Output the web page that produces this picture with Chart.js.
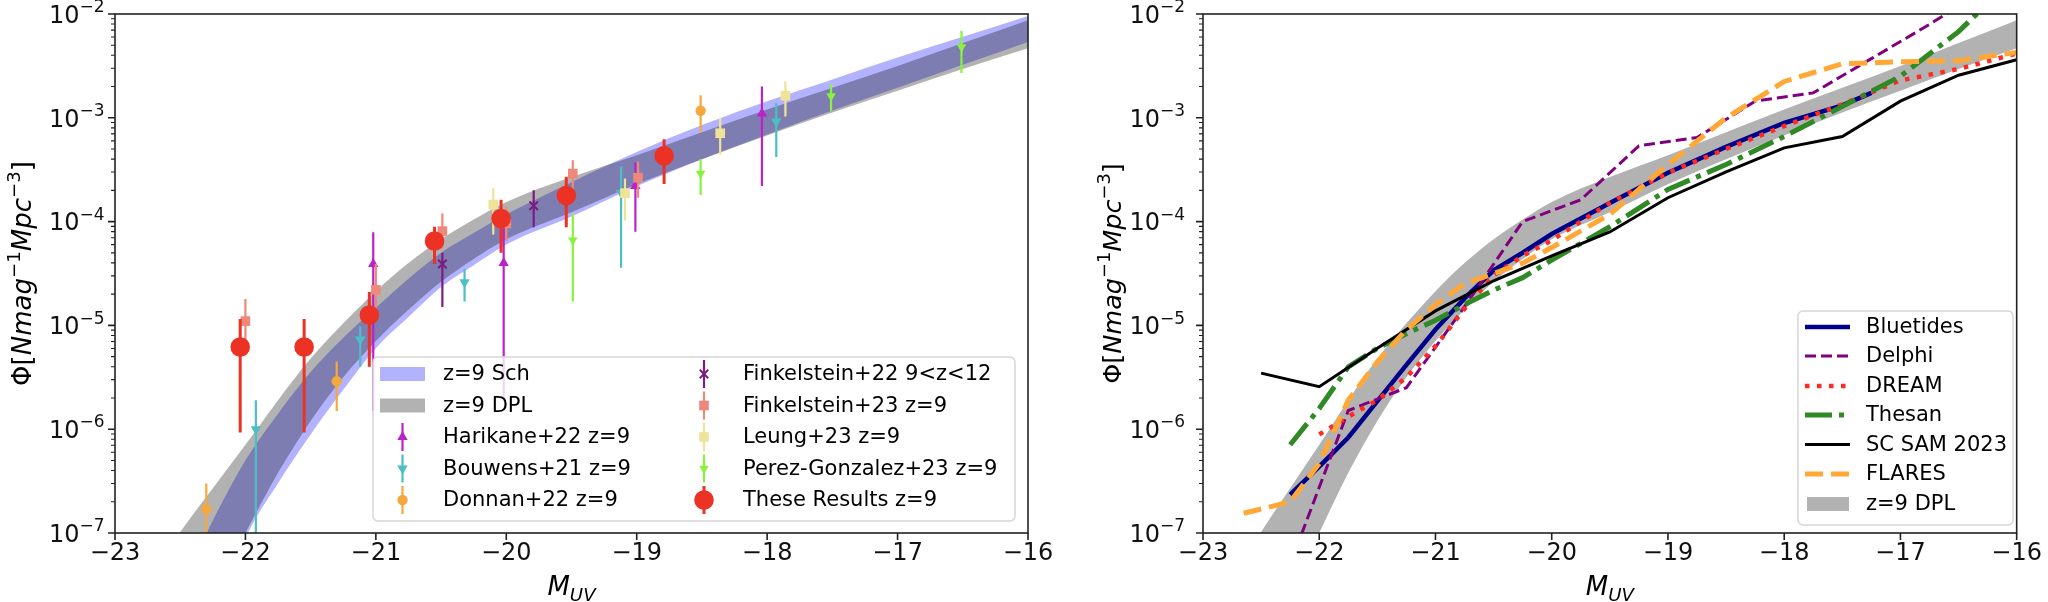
<!DOCTYPE html>
<html>
<head>
<meta charset="utf-8">
<script src="https://cdn.jsdelivr.net/npm/chart.js@4.4.1/dist/chart.umd.min.js"></script>
<style>
  html, body { margin: 0; padding: 0; background: #fff; }
  #wrap { position: relative; width: 2048px; height: 602px; overflow: hidden; }
  canvas { position: absolute; top: 0; }
  #left { left: 0; }
  #right { left: 1080px; }
</style>
</head>
<body>
<div id="wrap">
  <canvas id="left" width="1060" height="602"></canvas>
  <canvas id="right" width="968" height="602"></canvas>
</div>
<script>
// ---- axes ----
const xTicks = [-23, -22, -21, -20, -19, -18, -17, -16];
const yTicks = [1e-7, 1e-6, 1e-5, 1e-4, 1e-3, 1e-2];
const yTickExp = ["\u22127", "\u22126", "\u22125", "\u22124", "\u22123", "\u22122"];

// ---- shaded z=9 fits: log10(Phi) read along the band edges ----
const bandM = [-22.75, -22.5, -22.25, -22, -21.75, -21.5, -21.25, -21, -20.75, -20.5, -20.25, -20, -19.5, -19, -18.5, -18, -17.5, -17, -16.5, -16];
const schHiLog = [-8.3, -7.55, -6.88, -6.30, -5.85, -5.45, -5.12, -4.83, -4.55, -4.30, -4.11, -3.93, -3.62, -3.33, -3.07, -2.84, -2.63, -2.42, -2.22, -2.02];
const schLoLog = [-9.0, -8.6, -7.9, -7.05, -6.52, -6.05, -5.62, -5.22, -4.92, -4.63, -4.42, -4.22, -3.95, -3.66, -3.40, -3.16, -2.93, -2.71, -2.49, -2.27];
const dplHiLog = [-7.45, -6.99, -6.57, -6.15, -5.72, -5.32, -4.98, -4.67, -4.40, -4.17, -3.98, -3.81, -3.57, -3.36, -3.14, -2.92, -2.71, -2.50, -2.28, -2.06];
const dplLoLog = [-8.8, -8.2, -7.6, -7.0, -6.42, -5.92, -5.50, -5.15, -4.85, -4.58, -4.36, -4.17, -3.91, -3.64, -3.40, -3.17, -2.95, -2.74, -2.53, -2.33];

// ---- observations (left panel) ----
const harikaneM = [-21.02, -20.02, -19.01, -18.04];
const harikanePhi = [3.9e-5, 4.0e-5, 2.2e-4, 1.1e-3];
const harikaneHi = [7.9e-5, 9.0e-5, 3.7e-4, 2.0e-3];
const harikaneLo = [1.5e-6, 2.0e-6, 8.0e-5, 2.2e-4];

const bouwensM = [-21.92, -21.12, -20.32, -19.12, -17.93];
const bouwensPhi = [1.0e-6, 7.3e-6, 2.6e-5, 1.9e-4, 9.2e-4];
const bouwensHi = [1.9e-6, 9.8e-6, 3.5e-5, 3.4e-4, 1.4e-3];
const bouwensLo = [1e-8, 4.0e-6, 1.7e-5, 3.6e-5, 4.2e-4];

const donnanM = [-22.30, -21.30, -18.51];
const donnanPhi = [1.7e-7, 2.9e-6, 1.17e-3];
const donnanHi = [3.0e-7, 4.5e-6, 1.65e-3];
const donnanLo = [1e-8, 1.5e-6, 7.2e-4];

const fink22M = [-20.49, -19.79];
const fink22Phi = [3.9e-5, 1.42e-4];
const fink22Hi = [5.0e-5, 2.0e-4];
const fink22Lo = [1.5e-5, 8.8e-5];

const fink23M = [-22.0, -21.0, -20.49, -20.0, -19.49, -18.99];
const fink23Phi = [1.1e-5, 2.2e-5, 8.1e-5, 9.6e-5, 2.9e-4, 2.65e-4];
const fink23Hi = [1.8e-5, 3.9e-5, 1.2e-4, 1.4e-4, 3.9e-4, 3.8e-4];
const fink23Lo = [5.2e-6, 1.4e-5, 5.5e-5, 6.5e-5, 2.0e-4, 1.7e-4];

const leungM = [-20.10, -19.09, -18.36, -17.86];
const leungPhi = [1.46e-4, 1.88e-4, 7.1e-4, 1.63e-3];
const leungHi = [2.1e-4, 2.6e-4, 1.0e-3, 2.25e-3];
const leungLo = [7.5e-5, 1.02e-4, 4.4e-4, 1.03e-3];

const perezM = [-19.49, -18.51, -17.51, -16.51];
const perezPhi = [6.6e-5, 2.9e-4, 1.62e-3, 4.8e-3];
const perezHi = [1.2e-4, 4.0e-4, 2.1e-3, 6.9e-3];
const perezLo = [1.7e-5, 1.8e-4, 1.17e-3, 2.7e-3];

const oursM = [-22.04, -21.55, -21.05, -20.55, -20.04, -19.54, -18.79];
const oursPhi = [6.2e-6, 6.2e-6, 1.26e-5, 6.5e-5, 1.07e-4, 1.78e-4, 4.3e-4];
const oursHi = [1.15e-5, 1.15e-5, 2.1e-5, 8.9e-5, 1.62e-4, 2.7e-4, 6.2e-4];
const oursLo = [9.3e-7, 9.3e-7, 4.0e-6, 3.9e-5, 5.0e-5, 8.8e-5, 2.3e-4];

// ---- simulations (right panel): log10(Phi) ----
const bluetidesM = [-22.25, -22, -21.75, -21.5, -21.25, -21, -20.75, -20.5, -20.25, -20, -19.5, -19, -18.5, -18, -17.5, -17.25];
const bluetidesLog = [-6.63, -6.36, -6.08, -5.73, -5.38, -5.04, -4.74, -4.47, -4.30, -4.12, -3.82, -3.53, -3.28, -3.05, -2.88, -2.76];
const delphiM = [-22.25, -21.75, -21.25, -20.75, -20.25, -19.75, -19.25, -18.75, -18.25, -17.75, -17.25, -16.75, -16.25];
const delphiLog = [-7.3, -5.82, -5.6, -4.82, -4.0, -3.79, -3.27, -3.19, -2.84, -2.76, -2.43, -2.10, -1.75];
const dreamM = [-22, -21.75, -21.5, -21.25, -21, -20.75, -20.5, -20.25, -20, -19.5, -19, -18.5, -18, -17.5, -17, -16.5, -16];
const dreamLog = [-6.05, -5.88, -5.72, -5.50, -5.20, -4.84, -4.52, -4.33, -4.18, -3.82, -3.53, -3.30, -3.08, -2.87, -2.64, -2.53, -2.38];
const thesanM = [-22.25, -22, -21.75, -21.5, -21.25, -21, -20.75, -20.5, -20.25, -20, -19.5, -19, -18.5, -18, -17.5, -17, -16.5, -16.25];
const thesanLog = [-6.15, -5.80, -5.40, -5.22, -5.08, -4.95, -4.80, -4.66, -4.54, -4.37, -4.05, -3.69, -3.45, -3.18, -2.89, -2.60, -2.17, -1.9];
const scsamM = [-22.5, -22, -21.5, -21, -20.5, -20, -19.5, -19, -18.5, -18, -17.5, -17, -16.5, -16];
const scsamLog = [-5.46, -5.59, -5.22, -4.86, -4.57, -4.33, -4.10, -3.77, -3.52, -3.29, -3.18, -2.84, -2.59, -2.44];
const flaresM = [-22.65, -22.25, -22, -21.75, -21.5, -21.25, -21, -20.75, -20.5, -20.25, -20, -19.5, -19, -18.5, -18, -17.5, -17, -16.5, -16];
const flaresLog = [-6.81, -6.70, -6.33, -5.72, -5.35, -5.04, -4.80, -4.60, -4.50, -4.40, -4.25, -3.93, -3.45, -3.0, -2.65, -2.48, -2.46, -2.45, -2.37];

// ---- helpers ----
const FONT = '"DejaVu Sans", sans-serif';
Chart.defaults.font.family = FONT;
const pts = (xs, ys) => xs.map((x, i) => ({ x, y: ys[i] }));
const unlog = arr => arr.map(v => Math.pow(10, v));
const minus = v => (v < 0 ? "\u2212" : "") + Math.abs(v);

const SCH_FILL = "rgba(0,0,255,0.3)";
const DPL_FILL = "rgba(0,0,0,0.3)";

const obs = [
  { label: "Harikane+22 z=9", m: harikaneM, phi: harikanePhi, hi: harikaneHi, lo: harikaneLo, color: "#bd22c8", style: "triangle", rot: 0, r: 6, ew: 2.2 },
  { label: "Bouwens+21 z=9", m: bouwensM, phi: bouwensPhi, hi: bouwensHi, lo: bouwensLo, color: "#4cbfc4", style: "triangle", rot: 180, r: 6, ew: 2.2 },
  { label: "Donnan+22 z=9", m: donnanM, phi: donnanPhi, hi: donnanHi, lo: donnanLo, color: "#f5a83c", style: "circle", rot: 0, r: 5.2, ew: 2.2 },
  { label: "Finkelstein+22 9<z<12", m: fink22M, phi: fink22Phi, hi: fink22Hi, lo: fink22Lo, color: "#7c1c80", style: "crossRot", rot: 0, r: 6, ew: 2.2 },
  { label: "Finkelstein+23 z=9", m: fink23M, phi: fink23Phi, hi: fink23Hi, lo: fink23Lo, color: "#ee8878", style: "rect", rot: 0, r: 6.8, ew: 2.2 },
  { label: "Leung+23 z=9", m: leungM, phi: leungPhi, hi: leungHi, lo: leungLo, color: "#efe39a", style: "rect", rot: 0, r: 6.8, ew: 2.2 },
  { label: "Perez-Gonzalez+23 z=9", m: perezM, phi: perezPhi, hi: perezHi, lo: perezLo, color: "#88f23e", style: "triangle", rot: 180, r: 5.5, ew: 2.2 },
  { label: "These Results z=9", m: oursM, phi: oursPhi, hi: oursHi, lo: oursLo, color: "#ec3125", style: "circle", rot: 0, r: 9.8, ew: 3 }
];

const sims = [
  { label: "Bluetides", m: bluetidesM, v: bluetidesLog, color: "#00008b", w: 4.5, dash: [] },
  { label: "Delphi", m: delphiM, v: delphiLog, color: "#800080", w: 3, dash: [11, 5] },
  { label: "DREAM", m: dreamM, v: dreamLog, color: "#ff2a22", w: 4.5, dash: [4.5, 7.5] },
  { label: "Thesan", m: thesanM, v: thesanLog, color: "#2f8a25", w: 5, dash: [27, 7, 5, 7] },
  { label: "SC SAM 2023", m: scsamM, v: scsamLog, color: "#000000", w: 3, dash: [] },
  { label: "FLARES", m: flaresM, v: flaresLog, color: "#ffa836", w: 5, dash: [18, 8] }
];

function drawMarker(ctx, s, x, y) {
  ctx.save();
  ctx.fillStyle = s.color;
  ctx.strokeStyle = s.color;
  ctx.lineWidth = 2;
  const r = s.r;
  ctx.beginPath();
  if (s.style === "circle") {
    ctx.arc(x, y, r, 0, Math.PI * 2);
    ctx.fill();
  } else if (s.style === "triangle") {
    const rot = s.rot * Math.PI / 180;
    for (let k = 0; k < 3; k++) {
      const a = rot + k * 2 * Math.PI / 3;
      const px = x + Math.sin(a) * r, py = y - Math.cos(a) * r;
      if (k) ctx.lineTo(px, py); else ctx.moveTo(px, py);
    }
    ctx.closePath();
    ctx.fill();
  } else if (s.style === "rect") {
    const h = r * Math.SQRT1_2;
    ctx.rect(x - h, y - h, 2 * h, 2 * h);
    ctx.fill();
  } else if (s.style === "crossRot") {
    const h = r * Math.SQRT1_2;
    ctx.moveTo(x - h, y - h); ctx.lineTo(x + h, y + h);
    ctx.moveTo(x + h, y - h); ctx.lineTo(x - h, y + h);
    ctx.stroke();
  }
  ctx.restore();
}

function drawPhiLabel(ctx, bx, cy, size) {
  const parts = [["\u03A6[", "", 1, 0], ["Nmag", "italic ", 1, 0], ["\u22121", "", 0.7, 0.42],
                 ["Mpc", "italic ", 1, 0], ["\u22123", "", 0.7, 0.42], ["]", "", 1, 0]];
  ctx.save();
  ctx.translate(bx, cy);
  ctx.rotate(-Math.PI / 2);
  ctx.fillStyle = "#000";
  ctx.textBaseline = "alphabetic";
  ctx.textAlign = "left";
  let w = 0;
  parts.forEach(p => { ctx.font = p[1] + (size * p[2]) + "px " + FONT; w += ctx.measureText(p[0]).width; });
  let x = -w / 2;
  parts.forEach(p => {
    ctx.font = p[1] + (size * p[2]) + "px " + FONT;
    ctx.fillText(p[0], x, -p[3] * size);
    x += ctx.measureText(p[0]).width;
  });
  ctx.restore();
}

function drawMuv(ctx, cx, by, size) {
  ctx.save();
  ctx.fillStyle = "#000";
  ctx.textBaseline = "alphabetic";
  ctx.textAlign = "left";
  ctx.font = "italic " + size + "px " + FONT;
  const wM = ctx.measureText("M").width;
  ctx.font = "italic " + (size * 0.7) + "px " + FONT;
  const wS = ctx.measureText("UV").width;
  let x = cx - (wM + wS) / 2;
  ctx.font = "italic " + size + "px " + FONT;
  ctx.fillText("M", x, by);
  ctx.font = "italic " + (size * 0.7) + "px " + FONT;
  ctx.fillText("UV", x + wM, by + size * 0.22);
  ctx.restore();
}

// "10" with a raised exponent, right-aligned at rx and centred on the tick
function drawPow10(ctx, rx, py, exp) {
  ctx.save();
  ctx.fillStyle = "#111";
  ctx.textBaseline = "alphabetic";
  ctx.textAlign = "left";
  ctx.font = "17px " + FONT;
  const we = ctx.measureText(exp).width;
  ctx.font = "24px " + FONT;
  const wb = ctx.measureText("10").width;
  const base = py + 8.7;
  ctx.fillText("10", rx - we - wb, base);
  ctx.font = "17px " + FONT;
  ctx.fillText(exp, rx - we, base - 10.5);
  ctx.restore();
}

function legendFrame(ctx, l, t, r, b) {
  ctx.save();
  ctx.beginPath();
  ctx.roundRect(l, t, r - l, b - t, 5);
  ctx.fillStyle = "rgba(255,255,255,0.8)";
  ctx.fill();
  ctx.strokeStyle = "#d6d6d6";
  ctx.lineWidth = 1.5;
  ctx.stroke();
  ctx.restore();
}

function legendText(ctx, text, x, y) {
  ctx.save();
  ctx.fillStyle = "#000";
  ctx.font = "21px " + FONT;
  ctx.textBaseline = "middle";
  ctx.textAlign = "left";
  ctx.fillText(text, x, y);
  ctx.restore();
}

function frameAndTicks(chart, labelGap) {
  const ctx = chart.ctx, a = chart.chartArea, xs = chart.scales.x, ys = chart.scales.y;
  ctx.save();
  ctx.strokeStyle = "#222";
  ctx.lineWidth = 1.6;
  ctx.beginPath();
  xTicks.forEach(v => { const p = xs.getPixelForValue(v); ctx.moveTo(p, a.bottom); ctx.lineTo(p, a.bottom + 7); });
  yTicks.forEach(v => { const p = ys.getPixelForValue(v); ctx.moveTo(a.left - 7, p); ctx.lineTo(a.left, p); });
  ctx.stroke();
  ctx.lineWidth = 1.1;
  ctx.beginPath();
  for (let d = -7; d < -2; d++) {
    for (let k = 2; k < 10; k++) {
      const p = ys.getPixelForValue(k * Math.pow(10, d));
      ctx.moveTo(a.left - 4, p); ctx.lineTo(a.left, p);
    }
  }
  ctx.stroke();
  ctx.lineWidth = 1.6;
  ctx.strokeRect(a.left, a.top, a.right - a.left, a.bottom - a.top);
  ctx.restore();
  yTicks.forEach((v, i) => drawPow10(ctx, a.left - labelGap, ys.getPixelForValue(v), yTickExp[i]));
}

function scalesFor(yWidth) {
  return {
    x: {
      type: "linear", min: -23, max: -16,
      afterBuildTicks: s => { s.ticks = xTicks.map(v => ({ value: v })); },
      afterFit: s => { s.height = 69; },
      grid: { display: false, drawTicks: false },
      border: { display: false },
      ticks: { padding: 6, autoSkip: false, maxRotation: 0, color: "#111", font: { size: 24 }, callback: v => minus(v) }
    },
    y: {
      type: "logarithmic", min: 1e-7, max: 1e-2,
      afterBuildTicks: s => { s.ticks = yTicks.map(v => ({ value: v })); },
      afterFit: s => { s.width = yWidth; },
      grid: { display: false, drawTicks: false },
      border: { display: false },
      ticks: { autoSkip: false, callback: () => "" }
    }
  };
}

function bandSets(withSch) {
  const band = (hi, lo, color, ord) => [
    { type: "line", data: pts(bandM, unlog(hi)), showLine: true, borderWidth: 0, pointRadius: 0,
      cubicInterpolationMode: "monotone", backgroundColor: color, fill: "+1", order: ord },
    { type: "line", data: pts(bandM, unlog(lo)), showLine: true, borderWidth: 0, pointRadius: 0,
      cubicInterpolationMode: "monotone", fill: false, order: ord }
  ];
  const out = [];
  if (withSch) out.push(...band(schHiLog, schLoLog, SCH_FILL, 21));
  out.push(...band(dplHiLog, dplLoLog, DPL_FILL, 20));
  return out;
}

// ---------------- left panel ----------------
const leftSets = bandSets(true);
const errIndex = {};
obs.forEach((o, k) => {
  errIndex[leftSets.length] = o;
  leftSets.push({
    type: "scatter", label: o.label, data: pts(o.m, o.phi),
    pointStyle: o.style, pointRotation: o.rot, pointRadius: o.r,
    pointBackgroundColor: o.color, pointBorderColor: o.color,
    pointBorderWidth: o.style === "crossRot" ? 2 : 0, order: 10 - k
  });
});

const leftDecor = {
  id: "leftDecor",
  beforeDatasetDraw(chart, args) {
    const o = errIndex[args.index];
    if (!o) return;
    const ctx = chart.ctx, a = chart.chartArea, xs = chart.scales.x, ys = chart.scales.y;
    ctx.save();
    ctx.beginPath();
    ctx.rect(a.left, a.top, a.right - a.left, a.bottom - a.top);
    ctx.clip();
    ctx.strokeStyle = o.color;
    ctx.lineWidth = o.ew;
    ctx.beginPath();
    o.m.forEach((m, i) => {
      const px = xs.getPixelForValue(m);
      ctx.moveTo(px, ys.getPixelForValue(o.lo[i]));
      ctx.lineTo(px, ys.getPixelForValue(o.hi[i]));
    });
    ctx.stroke();
    ctx.restore();
  },
  afterDraw(chart) {
    const ctx = chart.ctx, a = chart.chartArea;
    frameAndTicks(chart, 10.5);
    drawPhiLabel(ctx, 31, (a.top + a.bottom) / 2, 26);
    drawMuv(ctx, (a.left + a.right) / 2, 595, 26);
    // legend
    legendFrame(ctx, 373, 357, 1015, 521);
    const rows = [374, 405.5, 437, 468.5, 500];
    const entries = [{ patch: SCH_FILL, label: "z=9 Sch" }, { patch: DPL_FILL, label: "z=9 DPL" }].concat(obs);
    entries.forEach((e, i) => {
      const col = i < 5 ? 0 : 1, y = rows[i % 5];
      const mx = col ? 704 : 402.5, tx = col ? 743 : 443;
      if (e.patch) {
        ctx.fillStyle = e.patch;
        ctx.fillRect(380, y - 7, 45, 14);
      } else {
        ctx.save();
        ctx.strokeStyle = e.color;
        ctx.lineWidth = e.ew;
        ctx.beginPath();
        ctx.moveTo(mx, y - 14); ctx.lineTo(mx, y + 14);
        ctx.stroke();
        ctx.restore();
        drawMarker(ctx, e, mx, y);
      }
      legendText(ctx, e.label, tx, y + 1);
    });
  }
};

new Chart(document.getElementById("left"), {
  type: "scatter",
  data: { datasets: leftSets },
  options: {
    responsive: false, animation: false, events: [],
    layout: { padding: { left: 0, right: 32, top: 14, bottom: 0 } },
    plugins: { legend: { display: false }, tooltip: { enabled: false } },
    scales: scalesFor(115)
  },
  plugins: [leftDecor]
});

// ---------------- right panel ----------------
const rightSets = bandSets(false);
sims.forEach((s, k) => {
  rightSets.push({
    type: "line", label: s.label, data: pts(s.m, unlog(s.v)), showLine: true,
    borderColor: s.color, borderWidth: s.w, borderDash: s.dash, borderCapStyle: "butt",
    pointRadius: 0, fill: false, order: 10 - k
  });
});

const rightDecor = {
  id: "rightDecor",
  afterDraw(chart) {
    const ctx = chart.ctx, a = chart.chartArea;
    frameAndTicks(chart, 18);
    drawPhiLabel(ctx, 41, (a.top + a.bottom) / 2, 25.5);
    drawMuv(ctx, (a.left + a.right) / 2, 595, 26);
    legendFrame(ctx, 718, 311, 933, 525);
    const rows = [327, 356, 386, 415, 444.5, 474, 504];
    sims.forEach((s, i) => {
      const y = rows[i];
      ctx.save();
      ctx.strokeStyle = s.color;
      ctx.lineWidth = s.w;
      ctx.setLineDash(s.dash);
      ctx.lineCap = "butt";
      ctx.beginPath();
      ctx.moveTo(725, y); ctx.lineTo(770, y);
      ctx.stroke();
      ctx.restore();
      legendText(ctx, s.label, 786, y + 1);
    });
    ctx.fillStyle = DPL_FILL;
    ctx.fillRect(727, rows[6] - 7, 42, 14);
    legendText(ctx, "z=9 DPL", 786, rows[6] + 1);
  }
};

new Chart(document.getElementById("right"), {
  type: "scatter",
  data: { datasets: rightSets },
  options: {
    responsive: false, animation: false, events: [],
    layout: { padding: { left: 0, right: 26, top: 14, bottom: 0 } },
    plugins: { legend: { display: false }, tooltip: { enabled: false } },
    scales: scalesFor(123)
  },
  plugins: [rightDecor]
});
</script>
</body>
</html>
